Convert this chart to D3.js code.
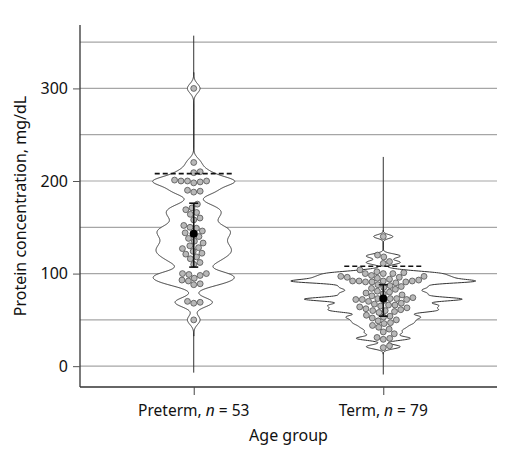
<!DOCTYPE html>
<html>
<head>
<meta charset="utf-8">
<script src="https://cdn.jsdelivr.net/npm/d3@7"></script>
<style>
  body { margin: 0; background: #fff; }
  svg text { font-family: "Noto Sans", "Open Sans", sans-serif; fill: #111; }
</style>
</head>
<body>
<svg width="520" height="471"></svg>
<script>
// --- data ---
var groups = ["Preterm", "Term"];
var groupN = [53, 79];

var pretermValues = [300, 220, 210, 209, 201, 200, 200, 200, 199, 198,
    190, 189, 188, 175, 171, 169, 166, 164, 160, 158, 152, 150, 149,
    146, 144, 143, 140, 138, 135, 133, 130, 128, 127, 124, 122, 121,
    118, 116, 112, 110, 100, 100, 99, 98, 95, 93, 92, 89, 88, 70, 69, 68, 50];

var termValues = [140, 120, 118, 113, 111,
    104, 102, 101, 100, 100, 100,
    98, 97, 97, 96, 96, 95, 94,
    93, 92, 92, 92, 92, 91, 91, 91, 90,
    88, 87, 86, 85, 84, 83,
    81, 80, 79, 78, 77, 76,
    74, 73, 73, 73, 72, 72, 72, 71, 70,
    68, 67, 66, 66, 65, 64, 63,
    62, 61, 60, 60, 59, 58,
    55, 54, 53, 52,
    50, 49, 47, 46,
    44, 42, 40,
    37, 35,
    31, 30, 29,
    22, 20];

var meanValues = [143, 73];
var barLow = [107, 54];
var barHigh = [176, 88];
var dashedValues = [208, 108];
var tailLow = [-7, -9];
var tailHigh = [357, 226];
var bandwidths = [5, 2];

var yTickValues = [0, 100, 200, 300];
var yGridValues = [0, 50, 100, 150, 200, 250, 300, 350];

var allValues = [pretermValues, termValues];

// --- layout ---
var svg = d3.select("svg");
var plot = {left: 80, right: 497, top: 25, bottom: 387};
var dotR = 3.25;
var widthPerCount = [6.3, 9.6];

var x = d3.scalePoint()
    .domain(groups)
    .range([plot.left, plot.right])
    .padding(0.6);

var y = d3.scaleLinear()
    .domain([-22.5, 368.5])
    .range([plot.bottom, plot.top]);

// grid
svg.append("g")
    .selectAll("line")
    .data(yGridValues)
  .join("line")
    .attr("x1", plot.left).attr("x2", plot.right)
    .attr("y1", function(d) { return y(d); })
    .attr("y2", function(d) { return y(d); })
    .attr("stroke", "#a6a6a6")
    .attr("stroke-width", 1.2);

// y axis
var yAxis = svg.append("g")
    .attr("transform", "translate(" + plot.left + ",0)")
    .call(d3.axisLeft(y).tickValues(yTickValues).tickSize(7).tickPadding(5));
yAxis.select(".domain").attr("stroke", "#333").attr("stroke-width", 1.3)
    .attr("d", "M0," + plot.top + "V" + plot.bottom);
yAxis.selectAll(".tick line").attr("stroke", "#555");
yAxis.selectAll("text").attr("font-size", 16).attr("fill", "#111")
    .style("font-family", "'Noto Sans', sans-serif");

// x axis
var xAxis = svg.append("g")
    .attr("transform", "translate(0," + plot.bottom + ")")
    .call(d3.axisBottom(x).tickSize(8).tickFormat(""));
xAxis.select(".domain").attr("stroke", "#333").attr("stroke-width", 1.3)
    .attr("d", "M" + plot.left + ",0H" + plot.right);
xAxis.selectAll(".tick line").attr("stroke", "#444");

var xLabels = svg.append("g")
    .selectAll("text")
    .data(groups)
  .join("text")
    .attr("x", function(d) { return x(d); })
    .attr("y", 416)
    .attr("text-anchor", "middle")
    .attr("font-size", 15.5);
xLabels.append("tspan").text(function(d) { return d + ", "; });
xLabels.append("tspan").attr("font-style", "italic").text("n");
xLabels.append("tspan").text(function(d, i) { return " = " + groupN[i]; });

svg.append("text")
    .attr("x", (plot.left + plot.right) / 2)
    .attr("y", 441)
    .attr("text-anchor", "middle")
    .attr("font-size", 16)
    .text("Age group");

svg.append("text")
    .attr("transform", "translate(26," + ((plot.top + plot.bottom) / 2) + ") rotate(-90)")
    .attr("text-anchor", "middle")
    .attr("font-size", 16)
    .text("Protein concentration, mg/dL");

// --- helpers ---
function kdeWidth(values, h, k) {
    return function(t) {
        var s = 0;
        values.forEach(function(v) {
            var u = (t - v) / h;
            s += Math.exp(-0.5 * u * u);
        });
        return s * k;
    };
}

function swarm(values) {
    var placed = [];
    values.slice().sort(function(a, b) { return a - b; }).forEach(function(v) {
        var py = y(v);
        var near = placed.filter(function(p) { return Math.abs(p.y - py) < 2 * dotR; });
        var cands = [0];
        near.forEach(function(p) {
            var dx = Math.sqrt(4 * dotR * dotR - (p.y - py) * (p.y - py));
            cands.push(p.x + dx, p.x - dx);
        });
        cands = cands.filter(function(c) {
            return near.every(function(p) {
                return Math.hypot(p.x - c, p.y - py) >= 2 * dotR - 1e-6;
            });
        });
        cands.sort(function(a, b) { return Math.abs(a) - Math.abs(b) || b - a; });
        placed.push({ x: cands[0], y: py, v: v });
    });
    return placed;
}

// --- marks ---
groups.forEach(function(g, i) {
    var cx = x(g);
    var vals = allValues[i];
    var h = bandwidths[i];
    var layer = svg.append("g");

    layer.append("line")
        .attr("x1", cx).attr("x2", cx)
        .attr("y1", y(tailLow[i])).attr("y2", y(tailHigh[i]))
        .attr("stroke", "#333").attr("stroke-width", 1);

    var w = kdeWidth(vals, h, widthPerCount[i]);
    var lo = d3.min(vals) - 3.5 * h, hi = d3.max(vals) + 3.5 * h;
    var grid = d3.range(lo, hi, 0.25);
    var area = d3.area()
        .y(function(t) { return y(t); })
        .x0(function(t) { return cx - w(t); })
        .x1(function(t) { return cx + w(t); });
    layer.append("path")
        .datum(grid)
        .attr("d", area)
        .attr("fill", "#fff")
        .attr("stroke", "#333")
        .attr("stroke-width", 1);

    layer.append("g")
        .selectAll("circle")
        .data(swarm(vals))
      .join("circle")
        .attr("cx", function(d) { return cx + d.x; })
        .attr("cy", function(d) { return d.y; })
        .attr("r", dotR - 0.3)
        .attr("fill", "#b8b8b8")
        .attr("stroke", "#505050")
        .attr("stroke-width", 0.8);

    layer.append("line")
        .attr("x1", cx - 39).attr("x2", cx + 39)
        .attr("y1", y(dashedValues[i])).attr("y2", y(dashedValues[i]))
        .attr("stroke", "#111").attr("stroke-width", 1.6)
        .attr("stroke-dasharray", "5,3");

    layer.append("line")
        .attr("x1", cx).attr("x2", cx)
        .attr("y1", y(barLow[i])).attr("y2", y(barHigh[i]))
        .attr("stroke", "#111").attr("stroke-width", 1.6);
    [barLow[i], barHigh[i]].forEach(function(b) {
        layer.append("line")
            .attr("x1", cx - 4.5).attr("x2", cx + 4.5)
            .attr("y1", y(b)).attr("y2", y(b))
            .attr("stroke", "#111").attr("stroke-width", 1.6);
    });
    layer.append("circle")
        .attr("cx", cx).attr("cy", y(meanValues[i]))
        .attr("r", 4)
        .attr("fill", "#000");
});
</script>
</body>
</html>
